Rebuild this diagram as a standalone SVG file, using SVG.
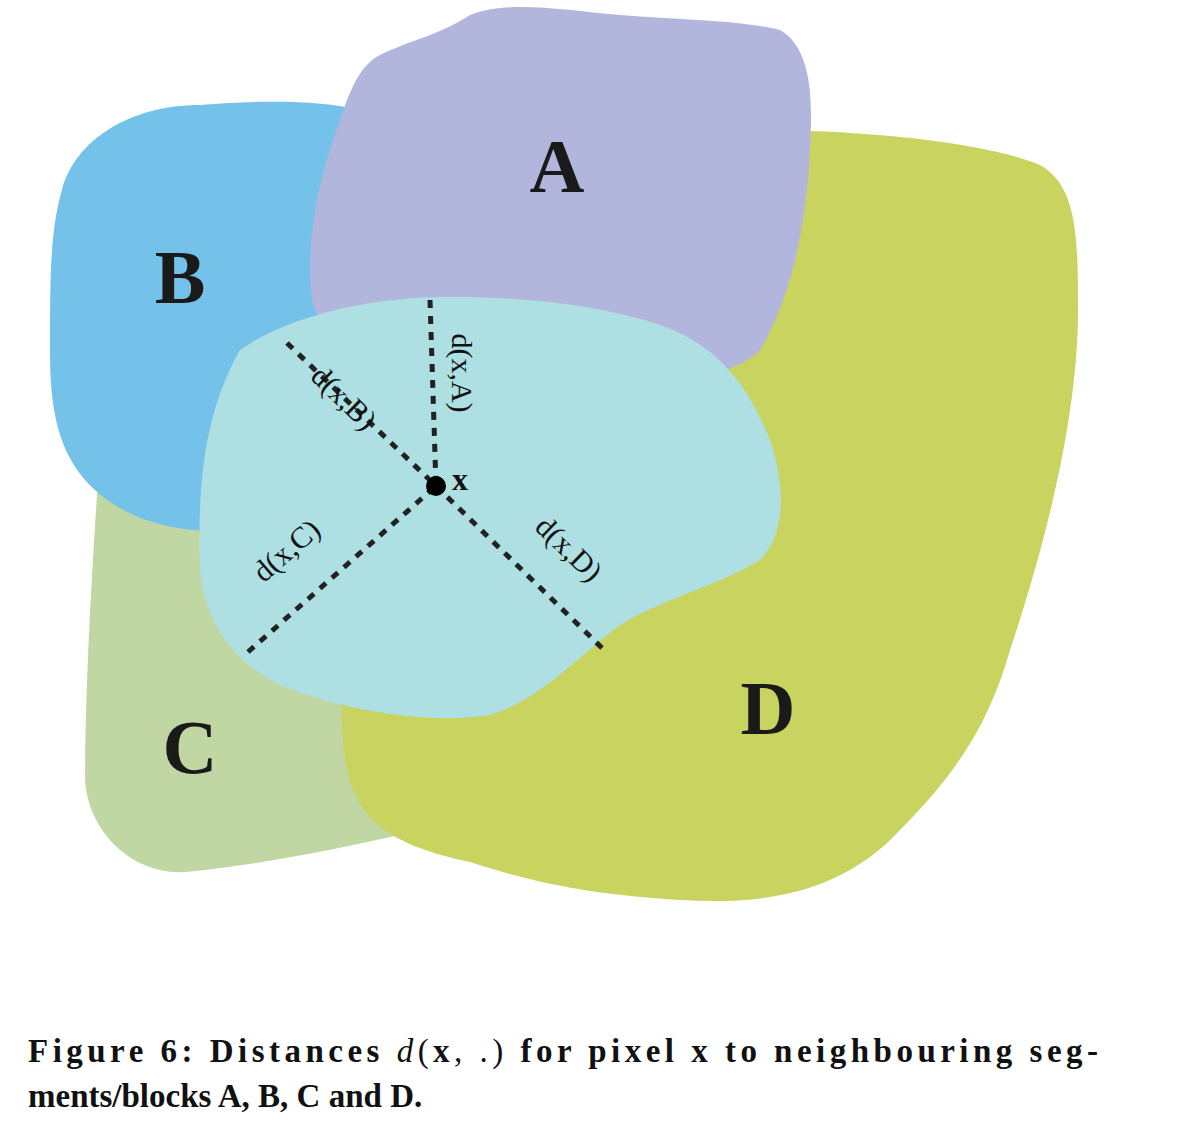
<svg xmlns="http://www.w3.org/2000/svg" width="1178" height="1122" viewBox="0 0 1178 1122">
<style>
.big{font-family:"Liberation Serif",serif;font-weight:bold;font-size:76px;fill:#1a1a1a;text-anchor:middle}
.lab{font-family:"Liberation Serif",serif;font-size:30px;fill:#111;text-anchor:middle}
.dl{stroke:#222;stroke-width:5;stroke-dasharray:8,8;fill:none}
.cap{font-family:"Liberation Serif",serif;font-weight:bold;font-size:33px;fill:#111}
</style>
<rect width="1178" height="1122" fill="#fff"/>
<g id="C"><path d="M98,480 C90,600 85,700 85,780 C88,830 130,875 185,872 C260,865 330,850 400,835 L420,600 L200,500 Z" fill="#c0d6a3"/></g>
<g id="D"><path d="M760,130 C850,130 980,140 1040,165 C1075,185 1078,230 1078,300 C1080,420 1040,560 1010,650 C990,720 960,770 900,830 C840,895 760,905 680,900 C600,895 540,885 470,862 C390,845 355,820 345,760 C338,700 340,650 360,600 L600,330 Z" fill="#c8d360"/></g>
<g id="B"><path d="M200,105 C260,100 320,100 360,110 L420,300 L230,530 C180,535 120,520 85,480 C55,445 50,400 50,350 C50,280 50,230 62,190 C75,140 130,105 200,105 Z" fill="#74c1ea"/></g>
<g id="A"><path d="M380,55 C410,40 440,35 470,15 C510,0 560,10 620,15 C680,20 740,20 780,30 C815,50 812,110 810,150 C806,230 790,300 760,350 C720,390 600,390 450,370 C380,360 320,340 312,300 C305,240 318,180 340,120 C350,90 360,65 380,55 Z" fill="#b3b6dc"/></g>
<g id="X"><path d="M240,350 C290,315 370,298 440,297 C520,296 600,305 660,325 C720,345 750,390 770,440 C790,500 780,540 760,560 C720,585 660,600 620,625 C580,655 540,700 490,715 C430,725 340,710 280,685 C230,660 205,620 200,570 C198,500 200,420 240,350 Z" fill="#aee0e3"/></g>
<g id="connectors">
<line class="dl" x1="430" y1="300" x2="436" y2="486"/>
<line class="dl" x1="287" y1="343" x2="436" y2="486"/>
<line class="dl" x1="248" y1="652" x2="436" y2="486"/>
<line class="dl" x1="602" y1="648" x2="436" y2="486"/>
</g>
<g id="labels">
<text class="big" x="557" y="192">A</text>
<text class="big" x="180" y="303">B</text>
<text class="big" x="190" y="773">C</text>
<text class="big" x="768" y="734">D</text>
<circle cx="436" cy="486" r="10" fill="#000"/>
<text x="452" y="490" style="font-family:'Liberation Serif',serif;font-weight:bold;font-size:32px;fill:#111">x</text>
<text class="lab" transform="translate(452,373) rotate(90)">d(x,A)</text>
<text class="lab" transform="translate(337,405) rotate(44)">d(x,B)</text>
<text class="lab" transform="translate(293,558) rotate(-41)">d(x,C)</text>
<text class="lab" transform="translate(562,556) rotate(44)">d(x,D)</text>
</g>
<text class="cap" x="28" y="1062" textLength="1070" lengthAdjust="spacing">Figure 6:  Distances <tspan font-style="italic" font-weight="normal">d</tspan><tspan font-weight="normal">(</tspan>x<tspan font-weight="normal">, .)</tspan> for pixel x to neighbouring seg-</text>
<text class="cap" x="28" y="1107">ments/blocks A, B, C and D.</text>
</svg>
